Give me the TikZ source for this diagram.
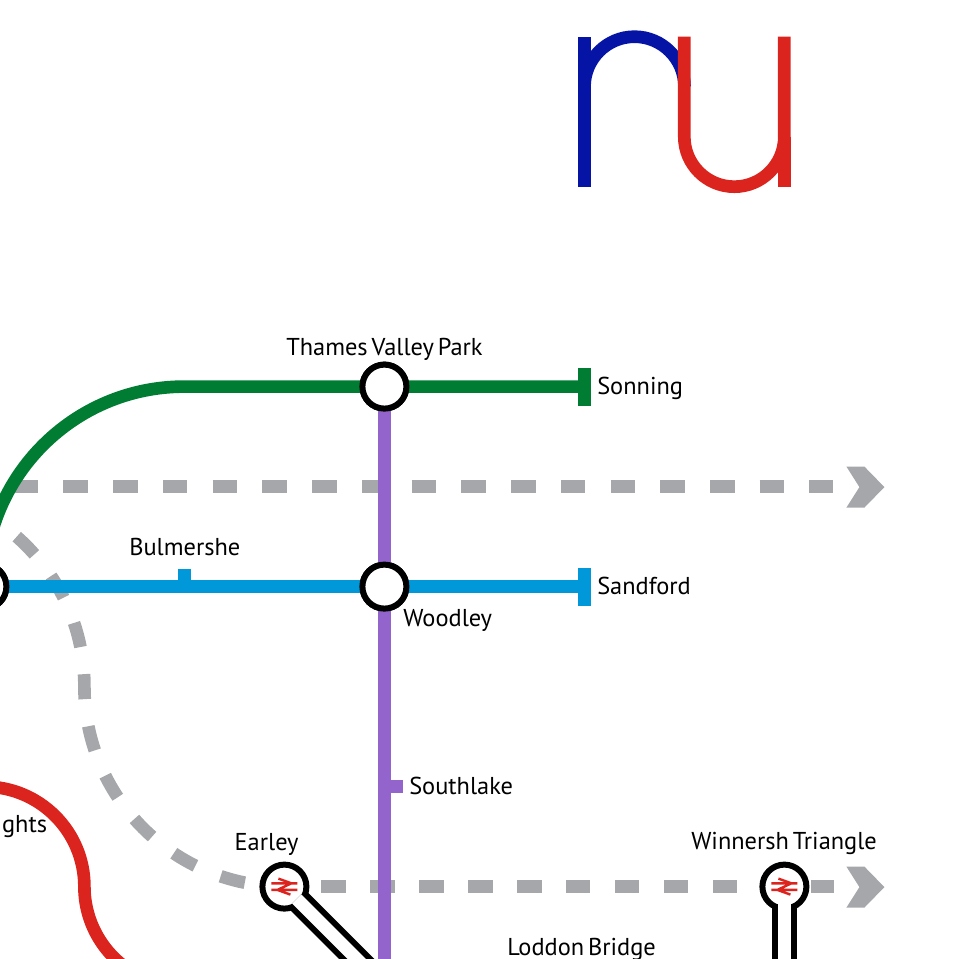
\documentclass[tikz,border=0pt]{standalone}
\usepackage{fontspec}
\setmainfont{PT Sans}[WordSpace=0.6]
\definecolor{logoblue}{HTML}{0514A5}
\definecolor{linered}{HTML}{DC241F}
\definecolor{linegreen}{HTML}{007D32}
\definecolor{lineblue}{HTML}{0098D8}
\definecolor{linepurple}{HTML}{9364CC}
\definecolor{linegrey}{HTML}{A5A7AA}
\tikzset{
  route/.style={line width=9.5pt},
  logostroke/.style={line width=9.5pt},
  planned/.style={line width=9.5pt,color=linegrey},
  chevron/.style={fill=linegrey,draw=none},
  station/.style={circle,draw=black,fill=white,line width=4.5pt,minimum size=33pt,inner sep=0pt,outer sep=0pt},
  tube/.style={draw=black,line width=4.5pt,double=white,double distance=9.75pt,shorten <=-3.4pt},
  label/.style={font=\fontsize{18.3pt}{20pt}\selectfont,text=black,inner sep=0pt},
  brsym/.style={draw=linered,line width=1.8pt},
}
\newcommand{\brlogo}[1]{\draw[brsym,shift={(#1)}] (-13,3.3)--(13,3.3) (-13,-3.3)--(13,-3.3) (-6,8)--(7,3.3)--(-7,-3.3)--(6,-8);}
\begin{document}
\begin{tikzpicture}[x=.75pt,y=.75pt]
\useasboundingbox (0,0) rectangle (958,-959);
\clip (0,0) rectangle (958,-959);
% logo
\draw[logostroke,logoblue] (584.5,-186.7)--(584.5,-36.7);
\draw[logostroke,logoblue] (584.5,-86.7) arc[start angle=180,end angle=0,radius=50];
\draw[logostroke,linered] (684.3,-36.7)--(684.3,-136.7) arc[start angle=180,end angle=360,radius=50]--(784.3,-36.7);
\draw[logostroke,linered] (784.3,-136.7)--(784.3,-186.7);
\begin{scope}[shift={(0.4,-0.6)}]
% named places
\node[station] (tvp) at (384,-386) {};
\node[station] (woodley) at (384,-586) {};
\node[station] (west) at (-16,-586) {};
\coordinate (sonning) at (590,-386);
\coordinate (sandford) at (590,-586);
\coordinate (bul) at (184,-586);
\coordinate (south) at (403,-786);
\coordinate (purpleend) at (384,-970);
\coordinate (ea) at (284,-886);
\coordinate (wi) at (784,-886);
\coordinate (topstart) at (13.3,-486);
\coordinate (topend) at (833,-486);
\coordinate (lowend) at (834,-886);
% grey routes
\draw[planned,dash pattern=on 18.4pt off 18.9pt] (topstart)--(topend);
\draw[planned,dash pattern=on 18.75pt off 20.52pt,dash phase=9.375pt] (ea) arc[start angle=270,end angle=180,radius=200] arc[start angle=0,end angle=90,radius=200];
\draw[planned,dash pattern=on 18.3pt off 18.4pt] (321,-886)--(lowend);
\fill[chevron] (846,-466)--(864,-466)--(884,-486.5)--(864,-507)--(846,-507)--(859,-486.5)--cycle;
\fill[chevron] (846,-866)--(864,-866)--(884,-886.5)--(864,-907)--(846,-907)--(859,-886.5)--cycle;
% coloured routes
\draw[route,linepurple] (tvp)--(purpleend);
\draw[route,linepurple] (384,-786)--(south);
\draw[route,linegreen] (sonning)--(tvp)--(184,-386) arc[start angle=90,end angle=180,radius=200];
\draw[route,linegreen] (584,-367.5)--(584,-405.5);
\draw[route,lineblue] (sandford)--(woodley)--(west);
\draw[route,lineblue] (584,-567.5)--(584,-605.5);
\draw[route,lineblue] (184,-568)--(bul);
\draw[route,linered] (-16,-786) arc[start angle=90,end angle=0,radius=100] arc[start angle=180,end angle=240,radius=100];
% stations
\node[station] at (tvp) {};
\node[station] at (woodley) {};
\node[station] at (west) {};
\node[station] (earley) at (ea) {};
\node[station] (winnersh) at (wi) {};
\coordinate (earleyend) at (434,-1036);
\coordinate (winnershend) at (784,-1000);
\draw[tube] (earley)--(earleyend);
\draw[tube] (winnersh)--(winnershend);
\draw[route,linepurple] (384,-900)--(purpleend);
\brlogo{ea}
\brlogo{wi}
% labels
\node[label,anchor=base west] (l1) at (285.6,-355) {Thames Valley Park};
\node[label,anchor=base west] (l2) at (596.6,-394) {Sonning};
\node[label,anchor=base west] (l3) at (128.6,-555) {Bulmershe};
\node[label,anchor=base west] (l4) at (596.6,-593.5) {Sandford};
\node[label,anchor=base west] (l5) at (402.6,-626) {Woodley};
\node[label,anchor=base west] (l6) at (408.6,-794) {Southlake};
\node[label,anchor=base west] (l7) at (234,-850) {Earley};
\node[label,anchor=base west] (l8) at (690.6,-849) {Winnersh Triangle};
\node[label,anchor=base west] (l9) at (506.6,-955) {Loddon Bridge};
\node[label,anchor=base east] (l10) at (47,-831.5) {ghts};
\end{scope}
\end{tikzpicture}
\end{document}
